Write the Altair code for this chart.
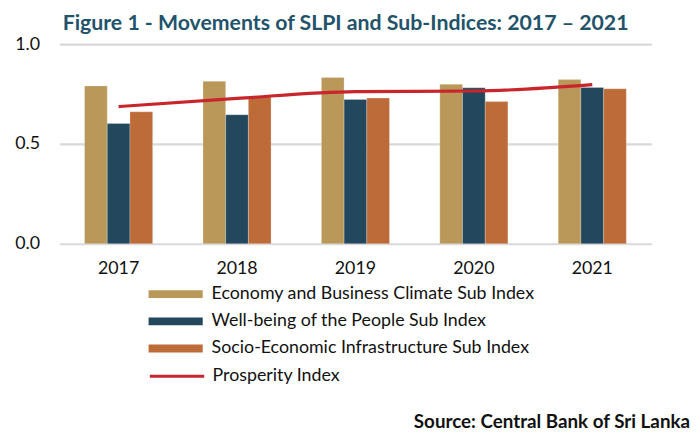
import altair as alt
import pandas as pd

years = ["2017", "2018", "2019", "2020", "2021"]
series = [
    "Economy and Business Climate Sub Index",
    "Well-being of the People Sub Index",
    "Socio-Economic Infrastructure Sub Index",
]
economy = [0.790, 0.814, 0.832, 0.799, 0.822]
wellbeing = [0.602, 0.646, 0.723, 0.781, 0.783]
infra = [0.661, 0.737, 0.730, 0.712, 0.776]
prosperity_name = "Prosperity Index"
prosperity = [0.687, 0.728, 0.762, 0.765, 0.797]
bar_colors = ["#B9985A", "#23475D", "#BE6B3A"]
line_color = "#C8262C"
title_text = "Figure 1 - Movements of SLPI and Sub-Indices: 2017 \u2013 2021"
source_text = "Source: Central Bank of Sri Lanka"

rows = []
for name, vals in zip(series, [economy, wellbeing, infra]):
    for y, v in zip(years, vals):
        rows.append({"year": y, "series": name, "value": v})
bars_df = pd.DataFrame(rows)
line_df = pd.DataFrame({"year": years, "value": prosperity, "series": prosperity_name})
src_df = pd.DataFrame({"t": [source_text]})

FONT = "Lato"
rect_path = "M-1,-0.145H1V0.145H-1Z"

x = alt.X(
    "year:N",
    sort=years,
    title=None,
    scale=alt.Scale(paddingInner=0.425, paddingOuter=0.2125),
    axis=alt.Axis(labelAngle=0, domain=False, ticks=False, labelPadding=16,
                  labelFontSize=18, labelFont=FONT, labelColor="#111111"),
)
y = alt.Y(
    "value:Q",
    title=None,
    scale=alt.Scale(domain=[0, 1]),
    axis=alt.Axis(values=[0, 0.5, 1.0], format=".1f", domain=False, ticks=False,
                  labelPadding=20, labelFontSize=18, labelFont=FONT, labelColor="#111111",
                  gridColor="#D9D9D9", gridWidth=2.2),
)

bars = alt.Chart(bars_df).mark_bar(stroke="#ffffff", strokeWidth=0.4, strokeOpacity=0.6).encode(
    x=x,
    xOffset=alt.XOffset("series:N", sort=series, scale=alt.Scale(paddingInner=0, paddingOuter=0)),
    y=y,
    fill=alt.Fill(
        "series:N",
        sort=series,
        scale=alt.Scale(domain=series, range=bar_colors),
        legend=alt.Legend(
            title=None, orient="none", legendX=90, legendY=244,
            symbolType=rect_path, symbolSize=3025, symbolStrokeWidth=0,
            clipHeight=18, rowPadding=9.5, labelOffset=9, padding=0,
            labelFontSize=18, labelFont=FONT, labelColor="#111111", labelLimit=500,
        ),
    ),
)

line = alt.Chart(line_df).mark_line(strokeWidth=3.2, interpolate="monotone").encode(
    x=x,
    y=y,
    stroke=alt.Stroke(
        "series:N",
        scale=alt.Scale(domain=[prosperity_name], range=[line_color]),
        legend=alt.Legend(
            title=None, orient="none", legendX=90, legendY=327,
            symbolType="stroke", symbolSize=3025, symbolStrokeWidth=3,
            clipHeight=18, labelOffset=7, padding=0,
            labelFontSize=18, labelFont=FONT, labelColor="#111111", labelLimit=500,
        ),
    ),
)

source = alt.Chart(src_df).mark_text(
    align="right", baseline="middle", fontSize=19, fontWeight="bold", font=FONT, color="#111111"
).encode(x=alt.value(638), y=alt.value(382), text="t:N")

chart = alt.layer(bars, line, source).resolve_scale(fill="independent", stroke="independent").properties(
    width=599,
    height=202,
    autosize=alt.AutoSizeParams(type="none"),
    padding={"left": 52, "top": 34, "right": 41, "bottom": 192},
    title=alt.Title(
        title_text, font=FONT, fontSize=21.5, fontWeight="bold", color="#22536A",
        anchor="middle", frame="group", offset=1, dx=-10,
    ),
).configure(background="#ffffff", view=alt.ViewConfig(stroke=None))

chart.save("out.html", embed_options={"renderer": "svg", "actions": False})
